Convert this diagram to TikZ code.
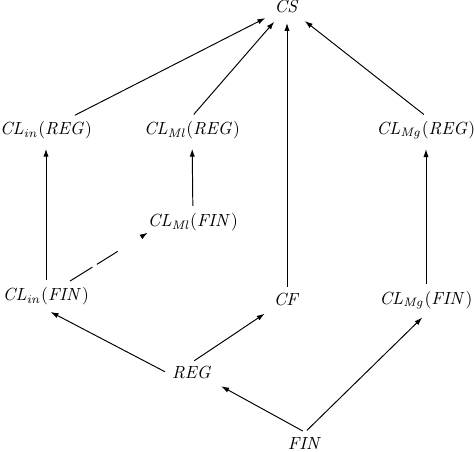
\documentclass[tikz,border=0pt]{standalone}
\usetikzlibrary{arrows.meta}
\newcommand{\CL}[2]{$\mathit{CL}_{\mathit{#1}}(\mathit{#2})$}
\tikzset{
  lang/.style={inner sep=2.5pt, font=\fontsize{10}{12}\selectfont},
  arr/.style={-{Latex[length=4.5pt,width=3pt]}, line width=.55pt, shorten >=3pt, shorten <=1.5pt}
}
\begin{document}
\begin{tikzpicture}[x=.02cm,y=-.02cm]
        \useasboundingbox (0,0) rectangle (474,452);
        \node[lang] (CS) at (287,7) {$\mathit{CS}$};
        \node[lang] (inREG) at (46,130) {\CL{in}{REG}};
        \node[lang] (MlREG) at (192,130) {\CL{Ml}{REG}};
        \node[lang] (MgREG) at (426,130) {\CL{Mg}{REG}};
        \node[lang] (MlFIN) at (193,222) {\CL{Ml}{FIN}};
        \node[lang] (inFIN) at (46,296) {\CL{in}{FIN}};
        \node[lang] (CF) at (287,300) {$\mathit{CF}$};
        \node[lang] (MgFIN) at (426,300) {\CL{Mg}{FIN}};
        \node[lang] (REG) at (192,373) {$\mathit{REG}$};
        \node[lang] (FIN) at (305,443) {$\mathit{FIN}$};

        \draw[arr] (inREG) -- (CS);
        \draw[arr] (MlREG.north) -- (CS);
        \draw[arr] (CF) -- (CS);
        \draw[arr] (MgREG.north) -- (CS);
        \draw[arr] (inFIN) -- (inREG);
        \draw[arr] (MlFIN) -- (MlREG);
        \draw[arr] (MgFIN) -- (MgREG);
        \draw[arr, shorten >=-3pt, dash pattern=on 15pt off 3pt on 14pt off 20pt] (inFIN) -- (MlFIN.south west);
        \draw[arr] (REG.west) -- (inFIN.south);
        \draw[arr] (REG.north) -- (CF.south west);
        \draw[arr] (FIN.north) -- (REG.south east);
        \draw[arr] (FIN.north) -- (MgFIN.south);

      \end{tikzpicture}
\end{document}
